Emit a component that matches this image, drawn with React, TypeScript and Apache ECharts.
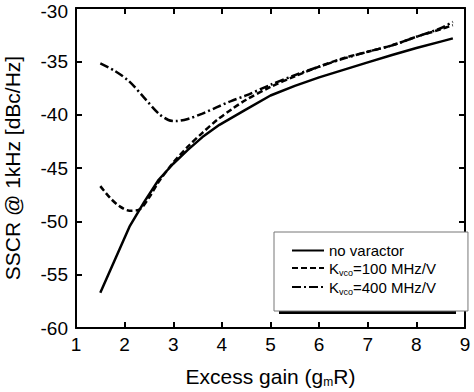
import React, { useEffect, useRef } from "react";
import * as echarts from "echarts";

const FONT = "Liberation Sans, Arial, sans-serif";

const xTicks = [1, 2, 3, 4, 5, 6, 7, 8, 9];
const yTicks = [-60, -55, -50, -45, -40, -35, -30];

const seriesNames = ["no varactor", "Kvco=100 MHz/V", "Kvco=400 MHz/V"];

const noVaractorX = [1.5, 2.1, 2.4, 2.7, 3.0, 3.3, 3.6, 3.95, 4.5, 5.0, 5.5, 6.0, 6.5, 7.0, 7.5, 8.0, 8.5, 8.75];
const noVaractorY = [-56.7, -50.5, -48.2, -46.1, -44.6, -43.3, -42.1, -40.95, -39.5, -38.2, -37.3, -36.5, -35.8, -35.1, -34.4, -33.75, -33.15, -32.85];

const k100X = [1.5, 1.7, 1.9, 2.1, 2.3, 2.5, 2.7, 3.0, 3.3, 3.6, 3.9, 4.2, 4.5, 5.0, 5.5, 6.0, 6.5, 7.0, 7.5, 8.0, 8.5, 8.75];
const k100Y = [-46.7, -47.8, -48.6, -49.0, -48.9, -47.8, -46.3, -44.5, -43.0, -41.7, -40.5, -39.5, -38.6, -37.4, -36.4, -35.5, -34.7, -34.1, -33.5, -32.7, -32.0, -31.6];

const k400X = [1.5, 1.8, 2.1, 2.4, 2.7, 2.9, 3.05, 3.3, 3.6, 3.9, 4.2, 4.5, 5.0, 5.5, 6.0, 6.5, 7.0, 7.5, 8.0, 8.5, 8.75];
const k400Y = [-35.2, -35.9, -36.9, -38.4, -39.9, -40.5, -40.6, -40.4, -39.9, -39.3, -38.7, -38.2, -37.2, -36.3, -35.5, -34.75, -34.1, -33.5, -32.7, -31.9, -31.3];

const zip = (xs: number[], ys: number[]) => xs.map((x, i) => [x, ys[i]]);

export default function App() {
  const ref = useRef<HTMLDivElement>(null);
  useEffect(() => {
    if (!ref.current) return;
    const chart = echarts.init(ref.current, null, { renderer: "svg" });
    const axisCommon = {
      axisLine: { show: true, onZero: false, lineStyle: { color: "#000", width: 2 } },
      axisTick: { show: true, inside: true, length: 6, lineStyle: { color: "#000", width: 2 } },
      splitLine: { show: false },
    };
    const rich = {
      n: { fontSize: 15, fontFamily: FONT, color: "#000", lineHeight: 20 },
      s: { fontSize: 9, fontFamily: FONT, color: "#000", padding: [9, 0, 0, 0], lineHeight: 20 },
    };
    const yMax = yTicks[yTicks.length - 1];
    chart.setOption({
      animation: false,
      backgroundColor: "#fff",
      grid: { left: 76, right: 9, top: 8, bottom: 64, containLabel: false, outerBoundsMode: "none" },
      graphic: [
        {
          type: "rect",
          left: 279,
          top: 237,
          shape: { width: 177, height: 77 },
          style: { fill: "#000" },
          z: 3,
        },
      ],
      xAxis: [
        {
          type: "value",
          min: xTicks[0],
          max: xTicks[xTicks.length - 1],
          interval: 1,
          position: "bottom",
          ...axisCommon,
          axisLabel: { show: true, color: "#000", fontSize: 19, fontFamily: FONT, margin: 9, lineHeight: 14 },
          name: "{n|Excess gain (g}{s|m}{n|R)}",
          nameLocation: "middle",
          nameGap: 36,
          nameTextStyle: {
            rich: {
              n: { fontSize: 21, fontFamily: FONT, color: "#000", lineHeight: 24 },
              s: { fontSize: 12, fontFamily: FONT, color: "#000", padding: [11, 0, 0, 0], lineHeight: 24 },
            },
          },
        },
        {
          type: "value",
          min: xTicks[0],
          max: xTicks[xTicks.length - 1],
          interval: 1,
          position: "top",
          ...axisCommon,
          axisLabel: { show: false },
        },
      ],
      yAxis: [
        {
          type: "value",
          min: yTicks[0],
          max: yMax,
          interval: 5,
          position: "left",
          ...axisCommon,
          axisLabel: {
            show: true,
            color: "#000",
            fontSize: 19,
            fontFamily: FONT,
            margin: 8,
            lineHeight: 14,
            formatter: (v: number) => (v === yMax ? `{t|${v}}` : `${v}`),
            rich: {
              t: { fontSize: 19, fontFamily: FONT, color: "#000", lineHeight: 14, padding: [6, 0, 0, 0] },
            },
          },
          name: "SSCR @ 1kHz [dBc/Hz]",
          nameLocation: "middle",
          nameGap: 53,
          nameTextStyle: { fontSize: 21, fontFamily: FONT, color: "#000", lineHeight: 21 },
        },
        {
          type: "value",
          min: yTicks[0],
          max: yMax,
          interval: 5,
          position: "right",
          ...axisCommon,
          axisLabel: { show: false },
        },
      ],
      legend: {
        orient: "vertical",
        left: 274,
        top: 232,
        padding: [11, 32, 15, 17],
        itemWidth: 32,
        itemHeight: 14,
        itemGap: 1,
        backgroundColor: "#fff",
        borderColor: "#777",
        borderWidth: 1,
        z: 5,
        itemStyle: { color: "rgba(0,0,0,0)", borderColor: "rgba(0,0,0,0)", borderWidth: 0, opacity: 0 },
        data: seriesNames,
        formatter: (name: string) =>
          name.startsWith("Kvco") ? `{n|K}{s|vco}{n|${name.slice(4)}}` : `{n|${name}}`,
        textStyle: { rich },
      },
      series: [
        {
          name: seriesNames[0],
          type: "line",
          data: zip(noVaractorX, noVaractorY),
          symbol: "none",
          lineStyle: { color: "#000", width: 2.5, type: "solid" },
          itemStyle: { color: "#000" },
        },
        {
          name: seriesNames[1],
          type: "line",
          data: zip(k100X, k100Y),
          symbol: "none",
          smooth: 0.3,
          lineStyle: { color: "#000", width: 2.5, type: [6, 3] },
          itemStyle: { color: "#000" },
        },
        {
          name: seriesNames[2],
          type: "line",
          data: zip(k400X, k400Y),
          symbol: "none",
          smooth: 0.3,
          lineStyle: { color: "#000", width: 2.5, type: [9, 3, 2, 3] },
          itemStyle: { color: "#000" },
        },
      ],
    });
    return () => chart.dispose();
  }, []);
  return (
    <div
      ref={ref}
      style={{ position: "fixed", left: 0, top: 0, width: 474, height: 392, background: "#fff" }}
    />
  );
}
